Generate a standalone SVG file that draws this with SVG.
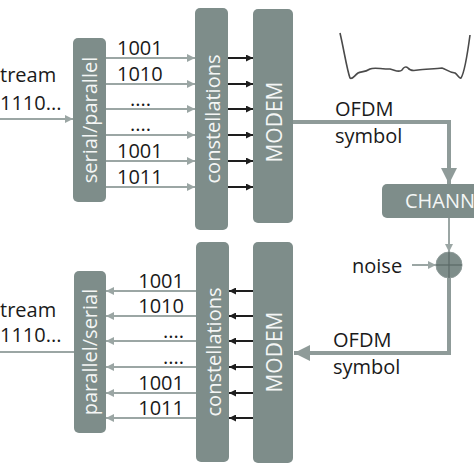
<svg xmlns="http://www.w3.org/2000/svg" width="474" height="474" viewBox="0 0 474 474">
<defs>
<style>
.box{fill:#7e8d8a}
.bt{fill:#f4f6f5;font-family:"Open Sans","Noto Sans",sans-serif;font-size:20px;text-anchor:middle}
.t{fill:#1a1a1a;font-family:"Open Sans","Noto Sans",sans-serif;font-size:20px}
.ga{stroke:#9ba6a4;stroke-width:2;fill:none}
.ba{stroke:#1e1e1e;stroke-width:2;fill:none}
.thick{stroke:#8f9b99;stroke-width:4;fill:none}
</style>
<marker id="ag" viewBox="0 0 10 10" refX="10" refY="5" markerWidth="9" markerHeight="8" markerUnits="userSpaceOnUse" orient="auto"><path d="M0,0 L10,5 L0,10 z" fill="#9ba6a4"/></marker>
<marker id="ab" viewBox="0 0 10 10" refX="10" refY="5" markerWidth="8" markerHeight="7" markerUnits="userSpaceOnUse" orient="auto"><path d="M0,0 L10,5 L0,10 z" fill="#1e1e1e"/></marker>
<marker id="abig" viewBox="0 0 10 10" refX="10" refY="5" markerWidth="16" markerHeight="17" markerUnits="userSpaceOnUse" orient="auto"><path d="M0,0 L10,5 L0,10 z" fill="#8f9b99"/></marker>
</defs>

<g id="connectors">
<line class="ga" x1="0" y1="119" x2="73" y2="119" marker-end="url(#ag)"/>
<line class="ga" x1="106" y1="58" x2="195" y2="58" marker-end="url(#ag)"/>
<line class="ga" x1="106" y1="84" x2="195" y2="84" marker-end="url(#ag)"/>
<line class="ga" x1="106" y1="109" x2="195" y2="109" marker-end="url(#ag)"/>
<line class="ga" x1="106" y1="135" x2="195" y2="135" marker-end="url(#ag)"/>
<line class="ga" x1="106" y1="161" x2="195" y2="161" marker-end="url(#ag)"/>
<line class="ga" x1="106" y1="187" x2="195" y2="187" marker-end="url(#ag)"/>
<line class="ba" x1="228" y1="58" x2="253" y2="58" marker-end="url(#ab)"/>
<line class="ba" x1="228" y1="84" x2="253" y2="84" marker-end="url(#ab)"/>
<line class="ba" x1="228" y1="109" x2="253" y2="109" marker-end="url(#ab)"/>
<line class="ba" x1="228" y1="135" x2="253" y2="135" marker-end="url(#ab)"/>
<line class="ba" x1="228" y1="161" x2="253" y2="161" marker-end="url(#ab)"/>
<line class="ba" x1="228" y1="187" x2="253" y2="187" marker-end="url(#ab)"/>
<path class="thick" d="M293,122 H449 V184" marker-end="url(#abig)"/>
<line class="ga" x1="449" y1="218" x2="449" y2="252" marker-end="url(#ag)"/>
<line class="ga" x1="412" y1="265" x2="436" y2="265" marker-end="url(#ag)"/>
<path class="thick" d="M449,278 V353 H294" marker-end="url(#abig)"/>
<line class="ba" x1="253" y1="291" x2="229" y2="291" marker-end="url(#ab)"/>
<line class="ba" x1="253" y1="316" x2="229" y2="316" marker-end="url(#ab)"/>
<line class="ba" x1="253" y1="341" x2="229" y2="341" marker-end="url(#ab)"/>
<line class="ba" x1="253" y1="367" x2="229" y2="367" marker-end="url(#ab)"/>
<line class="ba" x1="253" y1="393" x2="229" y2="393" marker-end="url(#ab)"/>
<line class="ba" x1="253" y1="418" x2="229" y2="418" marker-end="url(#ab)"/>
<line class="ga" x1="196" y1="291" x2="106" y2="291" marker-end="url(#ag)"/>
<line class="ga" x1="196" y1="316" x2="106" y2="316" marker-end="url(#ag)"/>
<line class="ga" x1="196" y1="341" x2="106" y2="341" marker-end="url(#ag)"/>
<line class="ga" x1="196" y1="367" x2="106" y2="367" marker-end="url(#ag)"/>
<line class="ga" x1="196" y1="393" x2="106" y2="393" marker-end="url(#ag)"/>
<line class="ga" x1="196" y1="418" x2="106" y2="418" marker-end="url(#ag)"/>
<line class="ga" x1="74" y1="352" x2="0" y2="352"/>
</g>

<g id="labels-top">
<text class="t" x="0" y="82">tream</text>
<text class="t" x="0" y="110">1110...</text>
<text class="t" x="117" y="55">1001</text>
<text class="t" x="117" y="81">1010</text>
<text class="t" x="130" y="106">....</text>
<text class="t" x="130" y="131">....</text>
<text class="t" x="117" y="158">1001</text>
<text class="t" x="117" y="184">1011</text>
<text class="t" x="335" y="116">OFDM</text>
<text class="t" x="335" y="143">symbol</text>
</g>

<g id="labels-bottom">
<text class="t" x="0" y="317">tream</text>
<text class="t" x="0" y="342">1110...</text>
<g class="t" style="text-anchor:end">
<text x="184" y="288">1001</text>
<text x="184" y="313">1010</text>
<text x="184" y="338">....</text>
<text x="184" y="364">....</text>
<text x="184" y="390">1001</text>
<text x="184" y="415">1011</text>
</g>
<text class="t" x="333" y="347">OFDM</text>
<text class="t" x="333" y="374">symbol</text>
<text class="t" x="352" y="273">noise</text>
</g>

<g id="serial-parallel">
<rect class="box" x="73" y="38" width="33" height="164" rx="5"/>
<text class="bt" transform="translate(97,120) rotate(-90)">serial/parallel</text>
</g>
<g id="constellations-tx">
<rect class="box" x="195" y="8" width="33" height="222" rx="5"/>
<text class="bt" transform="translate(220,119) rotate(-90)">constellations</text>
</g>
<g id="modem-tx">
<rect class="box" x="253" y="9" width="40" height="214" rx="5"/>
<text class="bt" style="font-size:21px" transform="translate(282,122) rotate(-90)">MODEM</text>
</g>
<g id="spectrum">
<path d="M340,33 C344,50 347,70 350,78 C352,80 354,76 358,73 C361,71 364,73 370,69 C374,67 380,69 390,69 C395,70 399,73 402,70 C404,67 406,66 408,68 C410,71 413,71 418,70 C425,69 435,69 442,68 C446,69 448,72 455,73 C458,75 459,79 461,78 C465,72 468,50 470,35" fill="none" stroke="#4a4a4a" stroke-width="1.6"/>
</g>
<g id="channel">
<rect class="box" x="382" y="184" width="100" height="34" rx="5"/>
<text x="405" y="208" style="fill:#f4f6f5;font-family:'Open Sans','Noto Sans',sans-serif;font-size:20px">CHANN</text>
</g>
<g id="adder">
<circle cx="449" cy="265" r="13" fill="#7e8d8a" stroke="#8f9b99" stroke-width="1"/>
<line x1="436" y1="265" x2="462" y2="265" stroke="#5b6967" stroke-width="1.2"/>
<line x1="449" y1="252" x2="449" y2="278" stroke="#5b6967" stroke-width="1.2"/>
</g>
<g id="parallel-serial">
<rect class="box" x="74" y="271" width="32" height="162" rx="5"/>
<text class="bt" transform="translate(97,352) rotate(-90)">parallel/serial</text>
</g>
<g id="constellations-rx">
<rect class="box" x="196" y="242" width="33" height="220" rx="5"/>
<text class="bt" transform="translate(221,352) rotate(-90)">constellations</text>
</g>
<g id="modem-rx">
<rect class="box" x="253" y="242" width="40" height="221" rx="5"/>
<text class="bt" style="font-size:21px" transform="translate(282,352) rotate(-90)">MODEM</text>
</g>
</svg>
